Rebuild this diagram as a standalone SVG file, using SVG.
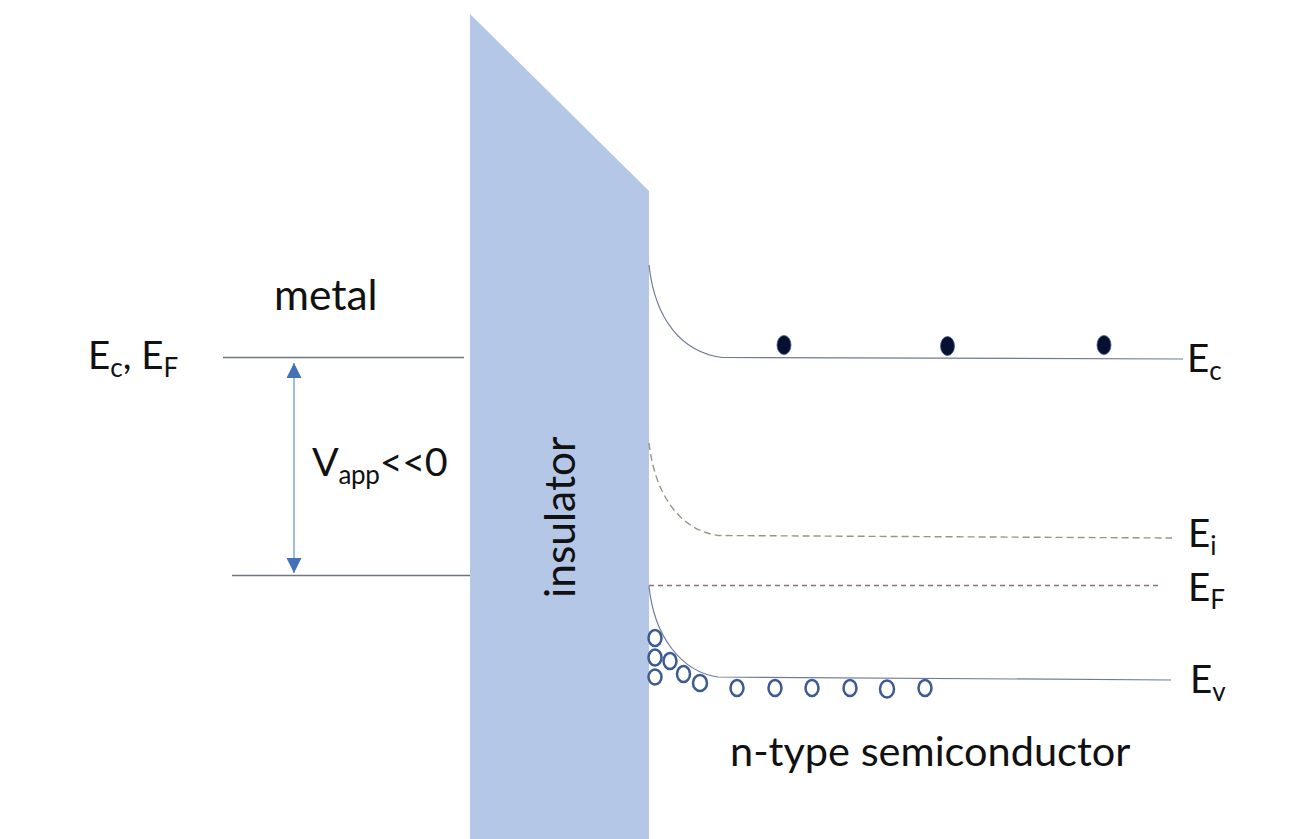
<svg xmlns="http://www.w3.org/2000/svg" width="1306" height="839" viewBox="0 0 1306 839">
<style>
text{font-family:"Lato","Open Sans",sans-serif;fill:#111;font-size:38.5px}
.s{font-size:26px}
.big{font-size:42.5px}
.lv{fill:none;stroke:#6f7680;stroke-width:1.4}
.b{fill:none;stroke:#6f7a99;stroke-width:1.2}
.h{fill:#fff;stroke:#3d5a94;stroke-width:2.500}
.e{fill:#071030;stroke:#3d5a94;stroke-width:.8}
</style>
<defs>
<marker id="a" markerUnits="userSpaceOnUse" markerWidth="16" markerHeight="16" refX="15" refY="7.5" orient="auto-start-reverse"><path d="M0 0L15 7.5L0 15Z" fill="#4472b8"/></marker>
</defs>
<rect width="1306" height="839" fill="#fff"/>
<g id="insulator"><path d="M470 14L649 191V839H470Z" fill="#b4c7e7"/><text class="big" transform="translate(575 598) rotate(-90)">insulator</text></g>
<g id="connectors">
<path class="lv" d="M223 357.500H464M232 575.500H470"/>
<path d="M294 363V573" fill="none" stroke="#7c9ccb" stroke-width="1.400" marker-start="url(#a)" marker-end="url(#a)"/>
<path class="b" d="M649 265C655 320 682 352 722 357.500L1183 359"/>
<path d="M649 443C655 495 680 530 718 535.500L1172 538" fill="none" stroke="#9a9580" stroke-width="1.400" stroke-dasharray="7 4"/>
<path d="M649 585.500H1160" fill="none" stroke="#8d6f78" stroke-width="1.400" stroke-dasharray="5 4"/>
<path class="b" d="M649 586C654 637 682 672 718 677L1171 680"/>
</g>
<g id="electrons"><ellipse class="e" cx="784" cy="345" rx="7" ry="9.500"/><ellipse class="e" cx="947.500" cy="346" rx="7" ry="9.500"/><ellipse class="e" cx="1104" cy="345" rx="7" ry="9.500"/></g>
<g id="holes">
<ellipse class="h" cx="655" cy="638" rx="6.500" ry="8"/><ellipse class="h" cx="655" cy="657.500" rx="6.500" ry="8"/><ellipse class="h" cx="655" cy="677" rx="6.500" ry="7.500"/>
<ellipse class="h" cx="670" cy="661" rx="6.500" ry="8"/><ellipse class="h" cx="683.500" cy="674" rx="6.500" ry="8"/><ellipse class="h" cx="700" cy="683" rx="7" ry="8"/>
<ellipse class="h" cx="737" cy="688" rx="6.500" ry="8"/><ellipse class="h" cx="775" cy="688" rx="6.500" ry="8"/><ellipse class="h" cx="812" cy="688" rx="6.500" ry="8"/><ellipse class="h" cx="850" cy="688" rx="6.500" ry="8"/><ellipse class="h" cx="887" cy="689" rx="7" ry="8.500"/><ellipse class="h" cx="925" cy="688" rx="6.500" ry="8"/>
</g>
<g id="labels">
<text class="big" x="274" y="310">metal</text>
<text x="88" y="369">E<tspan class="s" dy="8">c</tspan><tspan dy="-8">, E</tspan><tspan class="s" dy="8">F</tspan></text>
<text x="312" y="476" style="font-size:39.500px;letter-spacing:-.3px">V<tspan class="s" dy="8">app</tspan><tspan dy="-8">&lt;&lt;0</tspan></text>
<text x="1187" y="372">E<tspan class="s" dy="8">c</tspan></text>
<text x="1188" y="547">E<tspan class="s" dy="8">i</tspan></text>
<text x="1188" y="601">E<tspan class="s" dy="8">F</tspan></text>
<text x="1190" y="693">E<tspan class="s" dy="8">v</tspan></text>
<text x="730" y="766" style="font-size:41.5px">n-type semiconductor</text>
</g>
</svg>
